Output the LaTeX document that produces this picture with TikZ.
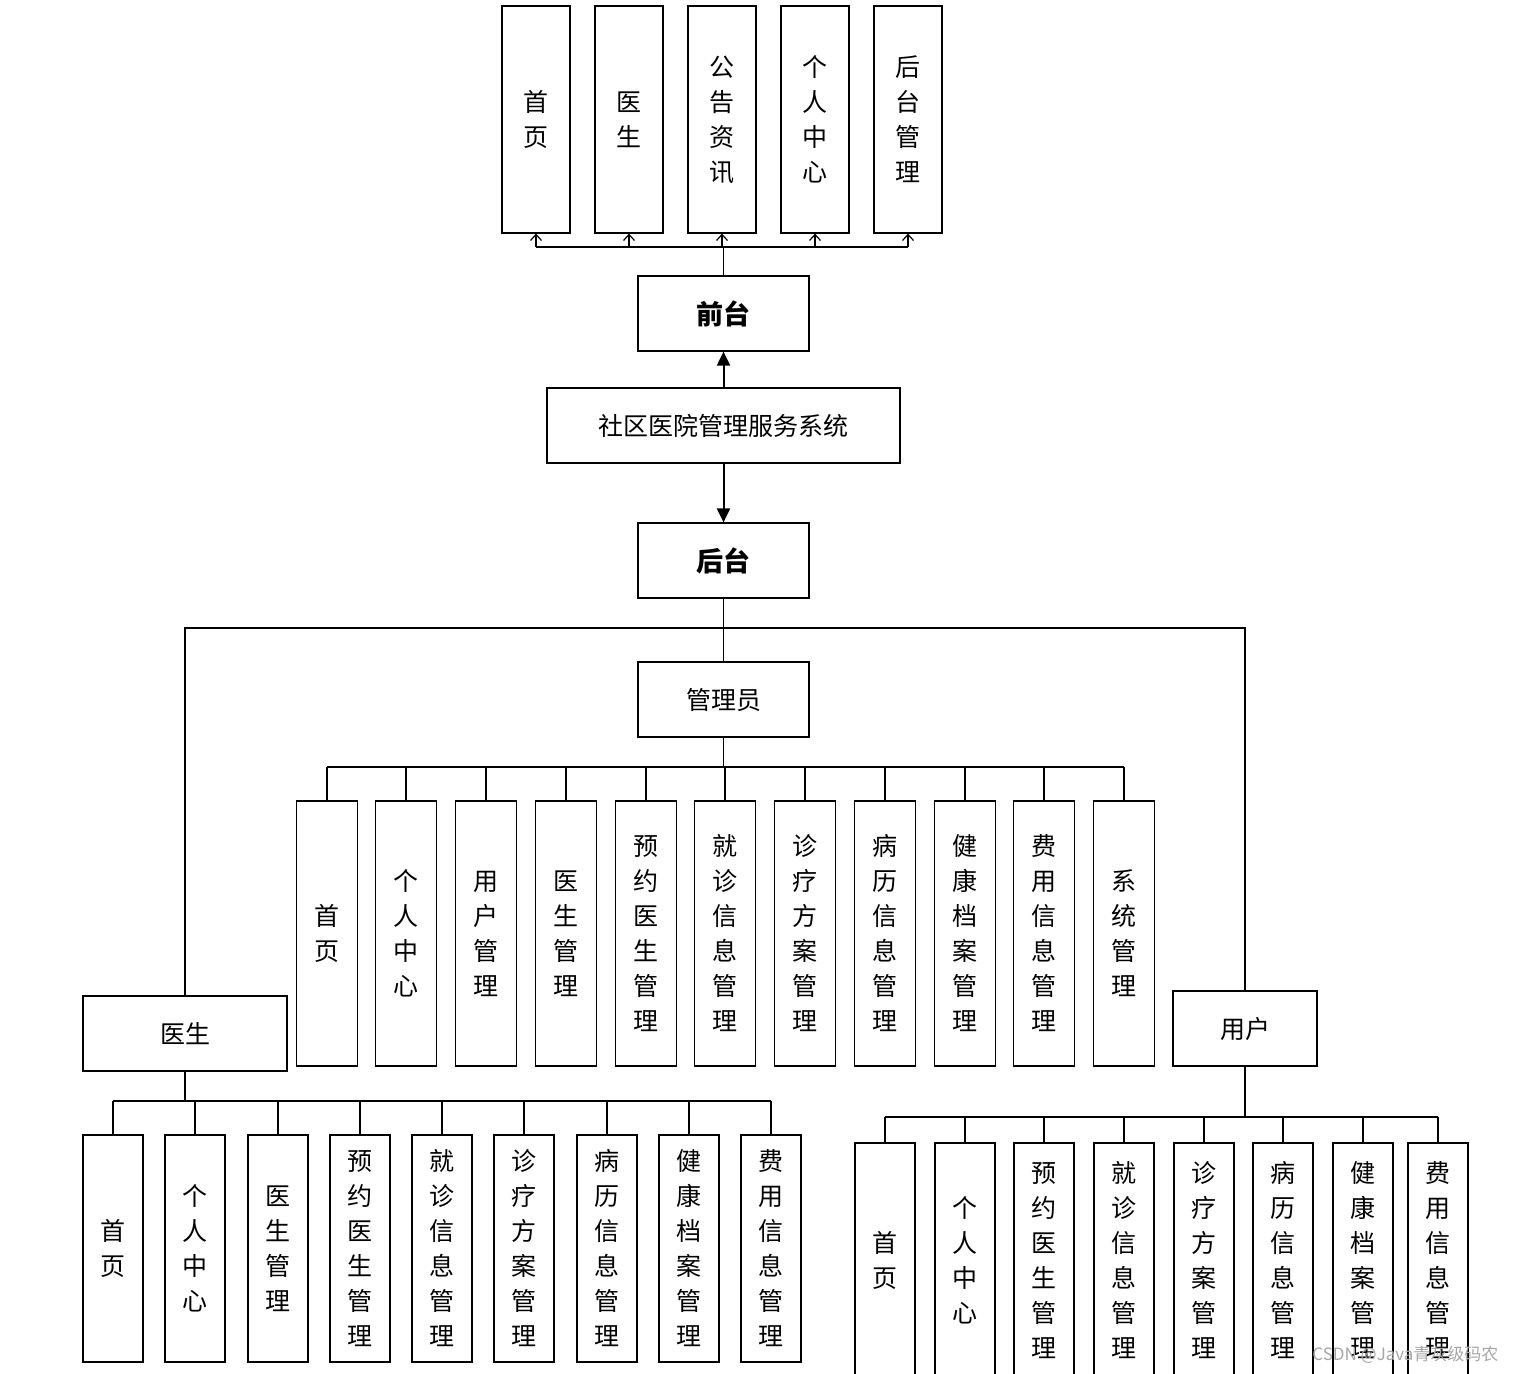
\documentclass[tikz,border=0pt]{standalone}
\usepackage{fontspec}
\newfontfamily\cjk{Noto Sans CJK SC}
\usetikzlibrary{arrows.meta}
\begin{document}
\begin{tikzpicture}[x=1pt,y=-1pt,
  box/.style={draw,line width=1.2pt,inner sep=0pt,font=\cjk\fontsize{25}{35}\selectfont,align=center},
  wire/.style={line width=1.2pt},
  open/.style={wire,-{Straight Barb[length=6pt,width=11pt]}},
  big/.style={line width=2pt,-{Triangle[length=14pt,width=13pt]}}]
\useasboundingbox (0,0) rectangle (1516,1374);
% top
\foreach \n/\x/\t in {t1/536/首\\页, t2/629/医\\生, t3/722/公\\告\\资\\讯, t4/815/个\\人\\中\\心, t5/908/后\\台\\管\\理}
  \node[box,minimum width=68pt,minimum height=227pt] (\n) at (\x,119.5) {\t};
\node[box,minimum width=171pt,minimum height=75pt,font=\cjk\bfseries\fontsize{27}{30}\selectfont] (front) at (723.5,313.5) {前台};
\node[box,minimum width=353pt,minimum height=75pt] (sys) at (723.5,425.5) {社区医院管理服务系统};
\node[box,minimum width=171pt,minimum height=75pt,font=\cjk\bfseries\fontsize{27}{30}\selectfont] (back) at (723.5,560.5) {后台};
\draw[big] (sys) -- (front);
\draw[big] (sys) -- (back);
\coordinate (fj) at (723.5,247);
\draw[wire] (front.north) -- (fj);
\draw[wire] (536,247) -- (908,247);
\foreach \n in {t1,t2,t3,t4,t5} \draw[open] (\n.south |- fj) -- (\n.south);
% back
\node[box,minimum width=171pt,minimum height=75pt] (adm) at (723.5,699.5) {管理员};
\node[box,minimum width=204pt,minimum height=75pt] (doc) at (185,1033.5) {医生};
\node[box,minimum width=144pt,minimum height=75pt] (usr) at (1245,1028.5) {用户};
\coordinate (bj) at (723.5,628);
\draw[wire] (back.south) -- (bj) -- (adm.north);
\draw[wire] (bj) -- (185,628) -- (doc.north);
\draw[wire] (bj) -- (1245,628) -- (usr.north);
% admin children
\coordinate (aj) at (723.5,767);
\draw[wire] (adm.south) -- (aj);
\draw[wire] (327,767) -- (1124,767);
\foreach \n/\x/\t in {a1/327/首\\页, a2/406/个\\人\\中\\心, a3/486/用\\户\\管\\理, a4/566/医\\生\\管\\理,
  a5/646/预\\约\\医\\生\\管\\理, a6/725/就\\诊\\信\\息\\管\\理, a7/805/诊\\疗\\方\\案\\管\\理,
  a8/885/病\\历\\信\\息\\管\\理, a9/965/健\\康\\档\\案\\管\\理, a10/1044/费\\用\\信\\息\\管\\理, a11/1124/系\\统\\管\\理}
  {\node[box,minimum width=61pt,minimum height=265pt] (\n) at (\x,933.5) {\t};
   \draw[wire] (\n.north |- aj) -- (\n.north);}
% doctor children
\coordinate (dj) at (185,1101);
\draw[wire] (doc.south) -- (dj);
\draw[wire] (113,1101) -- (771,1101);
\foreach \n/\x/\t in {d1/113/首\\页, d2/195/个\\人\\中\\心, d3/278/医\\生\\管\\理,
  d4/360/预\\约\\医\\生\\管\\理, d5/442/就\\诊\\信\\息\\管\\理, d6/524/诊\\疗\\方\\案\\管\\理,
  d7/607/病\\历\\信\\息\\管\\理, d8/689/健\\康\\档\\案\\管\\理, d9/771/费\\用\\信\\息\\管\\理}
  {\node[box,minimum width=60pt,minimum height=227pt] (\n) at (\x,1248.5) {\t};
   \draw[wire] (\n.north |- dj) -- (\n.north);}
% user children
\coordinate (uj) at (1245,1117);
\draw[wire] (usr.south) -- (uj);
\draw[wire] (885,1117) -- (1438,1117);
\foreach \n/\x/\t in {u1/885/首\\页, u2/965/个\\人\\中\\心,
  u3/1044/预\\约\\医\\生\\管\\理, u4/1124/就\\诊\\信\\息\\管\\理, u5/1204/诊\\疗\\方\\案\\管\\理,
  u6/1283/病\\历\\信\\息\\管\\理, u7/1363/健\\康\\档\\案\\管\\理, u8/1438/费\\用\\信\\息\\管\\理}
  {\node[box,minimum width=60pt,minimum height=235pt] (\n) at (\x,1260.5) {\t};
   \draw[wire] (\n.north |- uj) -- (\n.north);}
\node[font=\cjk\fontsize{17}{20}\selectfont,text=black!35,anchor=east] (wm) at (1502,1355) {CSDN @Java青灰级码农};
\end{tikzpicture}
\end{document}
